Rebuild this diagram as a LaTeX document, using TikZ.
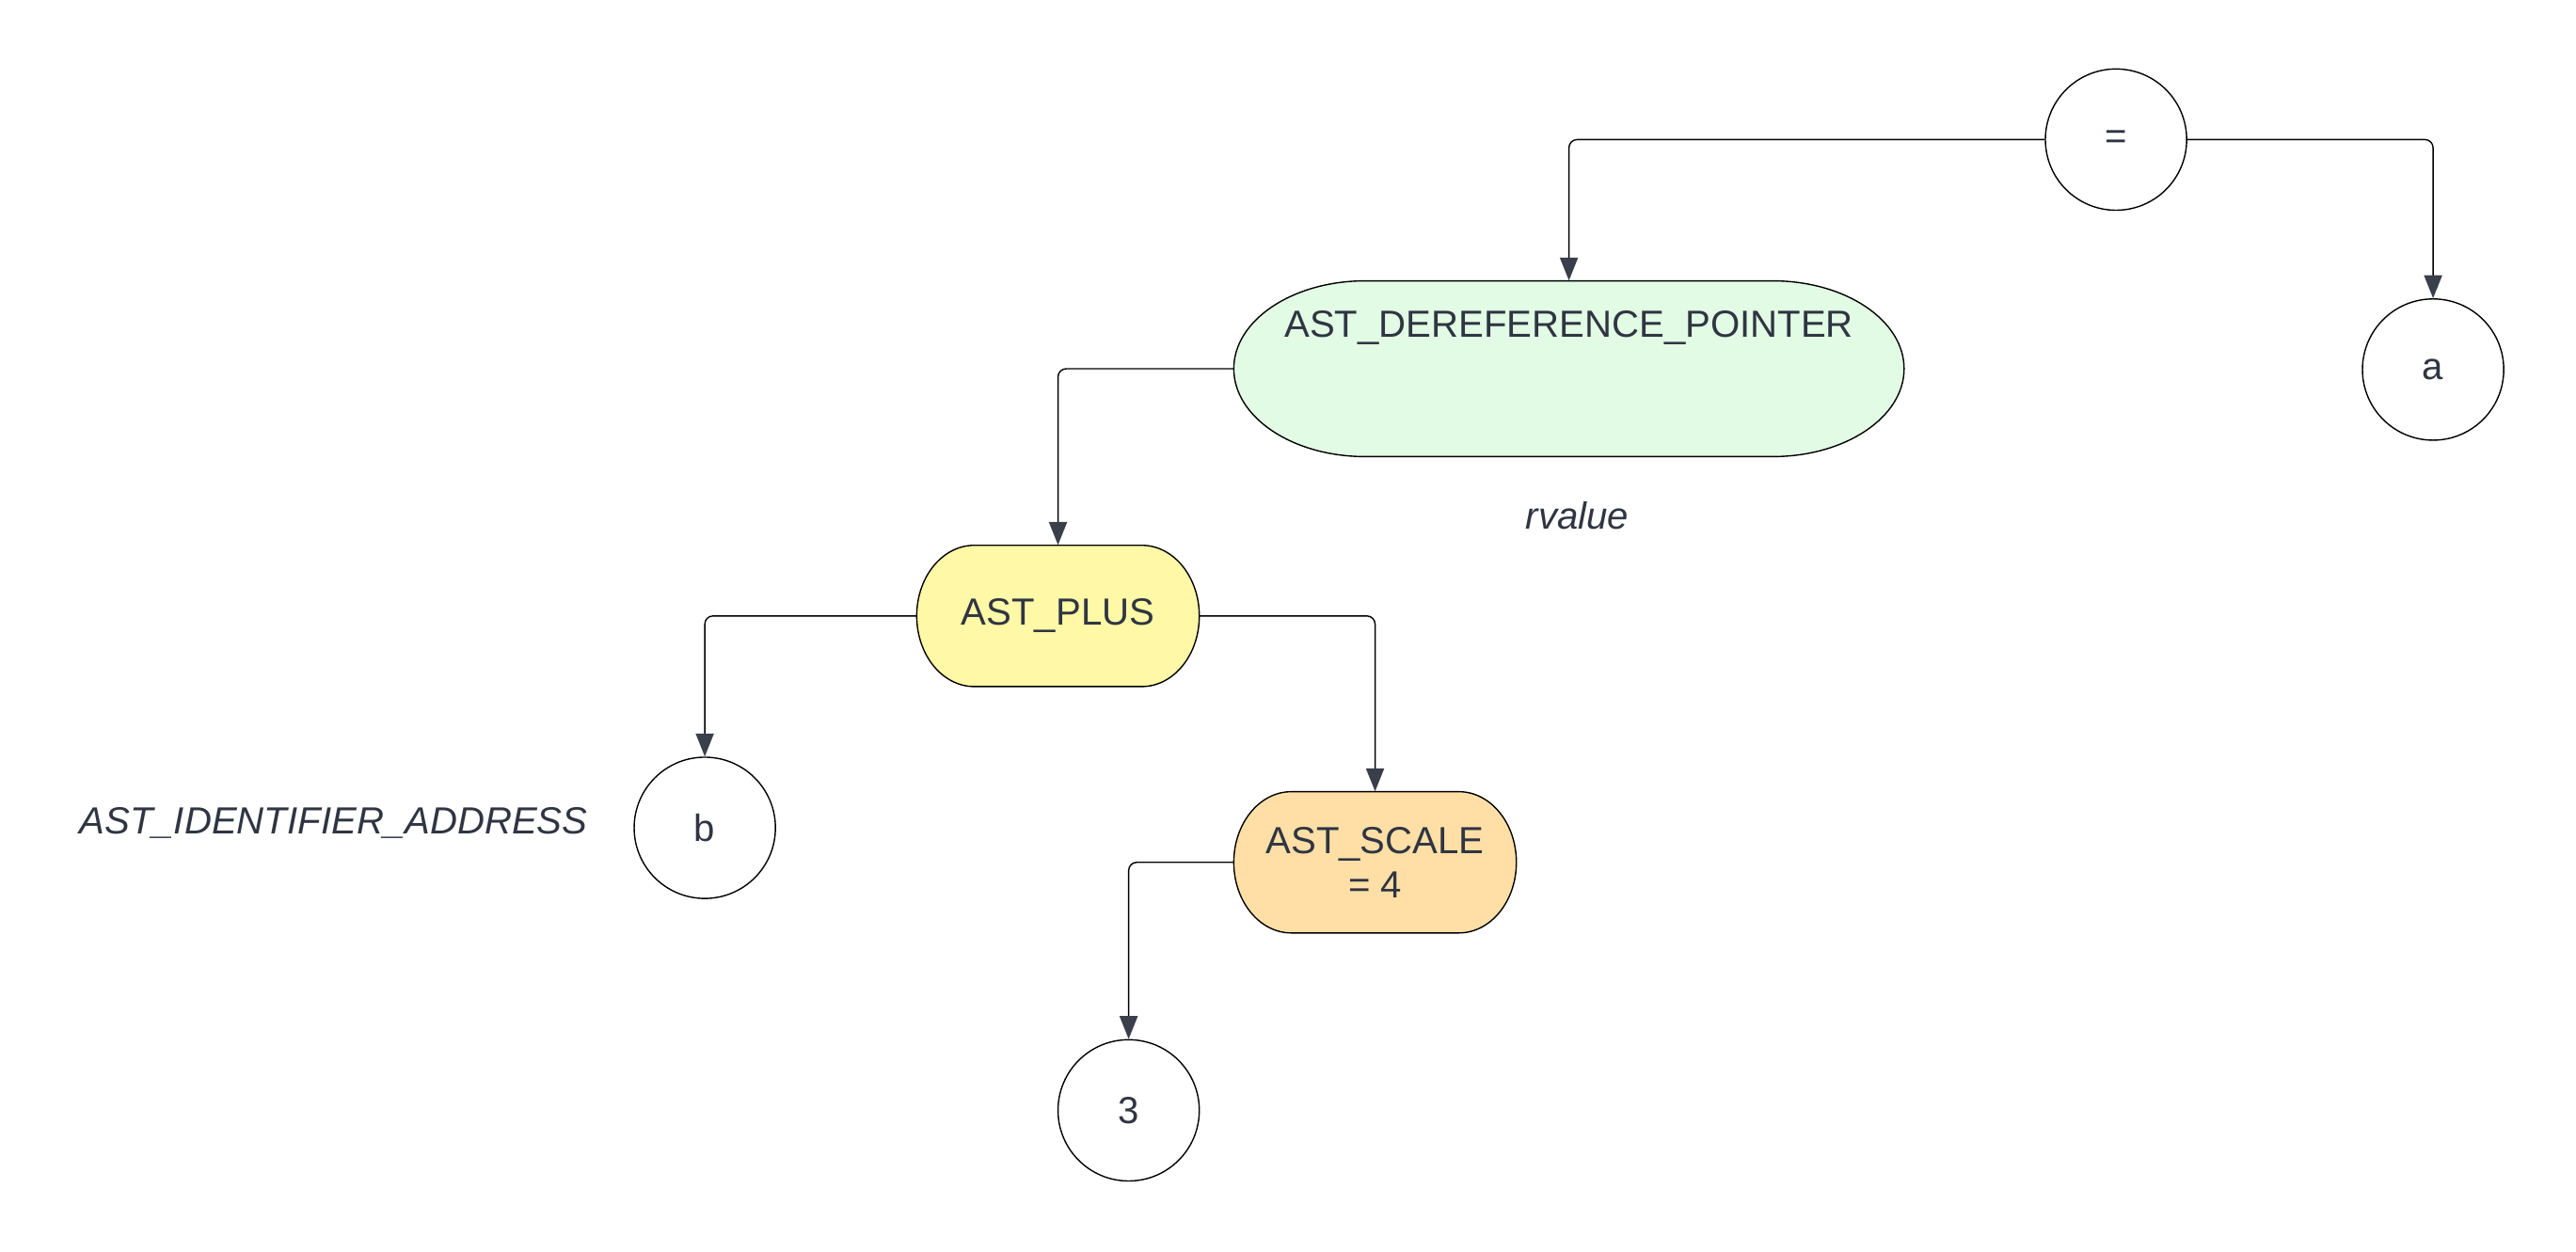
\documentclass[tikz,border=0pt]{standalone}
\usepackage{fontspec}
\setmainfont{Liberation Sans}
\usetikzlibrary{arrows.meta}
\definecolor{txt}{HTML}{2F3542}
\definecolor{arr}{HTML}{3A3F4A}
\definecolor{gfill}{HTML}{E2FBE4}
\definecolor{yfill}{HTML}{FFF8A6}
\definecolor{ofill}{HTML}{FFDFA6}
\begin{document}
\begin{tikzpicture}[x=1pt,y=1pt,
  every node/.style={font=\fontsize{23}{27}\selectfont, text=txt, align=center},
  circ/.style={circle, draw=black, line width=0.8pt, minimum size=86pt, inner sep=0pt, fill=white},
  box/.style={rectangle, draw=none, inner sep=0pt},
  shp/.style={draw=black, line width=0.8pt},
  conn/.style={draw=black, line width=0.8pt, rounded corners=5pt, -{Triangle[length=14pt,width=11pt,color=arr]}},
  lab/.style={font=\fontsize{23}{27}\selectfont\itshape}]
\useasboundingbox (0,0) rectangle (1568,762);
% shapes
\draw[shp, fill=gfill] (831,591) -- (1079,591) arc[start angle=90,end angle=-90,x radius=80,y radius=53.5] -- (831,484) arc[start angle=-90,end angle=-270,x radius=80,y radius=53.5] -- cycle;
\draw[shp, fill=yfill] (593,430) -- (695,430) arc[start angle=90,end angle=-90,x radius=35,y radius=43] -- (593,344) arc[start angle=-90,end angle=-270,x radius=35,y radius=43] -- cycle;
\draw[shp, fill=ofill] (786,280) -- (888,280) arc[start angle=90,end angle=-90,x radius=35,y radius=43] -- (786,194) arc[start angle=-90,end angle=-270,x radius=35,y radius=43] -- cycle;
% nodes
\node[box, minimum width=408pt, minimum height=107pt] (deref) at (955,537.5) {AST\_DEREFERENCE\_POINTER\\[28pt]};
\node[box, minimum width=172pt, minimum height=86pt] (plus) at (644,387) {AST\_PLUS};
\node[box, minimum width=172pt, minimum height=86pt] (scale) at (837,237) {AST\_SCALE\\= 4};
\node[circ] (eq) at (1288,677) {=};
\node[circ] (a) at (1481,537) {a};
\node[circ] (b) at (429,258) {b};
\node[circ] (three) at (687,86) {3};
\node[lab] (rv) at (960,448) {rvalue};
\node[lab] (ida) at (203,261) {AST\_IDENTIFIER\_ADDRESS};
% connectors
\draw[conn] (eq.west) -| (deref.north);
\draw[conn] (eq.east) -| (a.north);
\draw[conn] (deref.west) -| (plus.north);
\draw[conn] (plus.west) -| (b.north);
\draw[conn] (plus.east) -| (scale.north);
\draw[conn] (scale.west) -| (three.north);
\end{tikzpicture}
\end{document}
